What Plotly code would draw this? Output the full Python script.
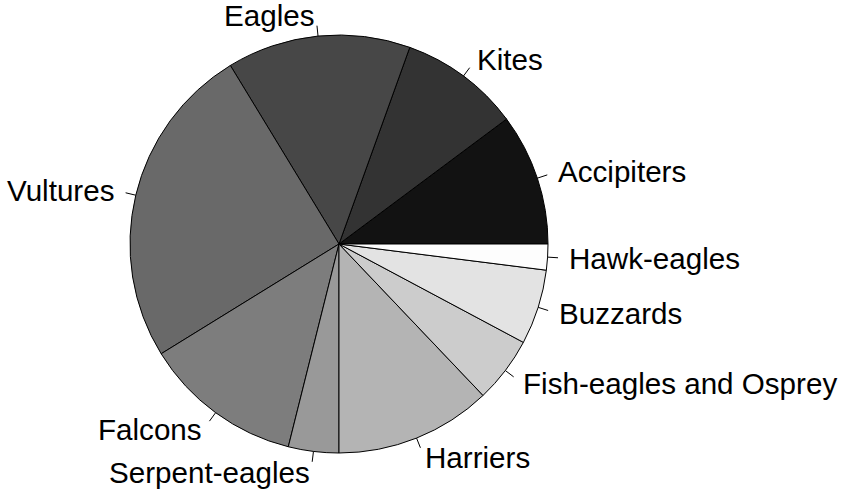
import math
import plotly.graph_objects as go

W, H = 842, 493

# raptor groups, counterclockwise from 3 o'clock (R pie style)
groups = ["Accipiters", "Kites", "Eagles", "Vultures", "Falcons",
          "Serpent-eagles", "Harriers", "Fish-eagles and Osprey",
          "Buzzards", "Hawk-eagles"]
shares = [10.2, 9.3, 14.2, 25.1, 12.3, 3.9, 12.1, 5.1, 5.8, 2.0]
greys = ["#121212", "#333333", "#474747", "#696969", "#7d7d7d",
         "#999999", "#b4b4b4", "#cccccc", "#e3e3e3", "#fdfdfd"]

# pie placement in pixels
cx, cy, R = 339, 244, 209

total = sum(shares)
# plotly's ccw pie puts the first slice clockwise of `rotation`, so shift it back
rot = 90 - 360 * shares[0] / total

fig = go.Figure(go.Pie(
    labels=groups, values=shares, sort=False,
    direction="counterclockwise", rotation=rot,
    textinfo="none", showlegend=False, hoverinfo="label+percent",
    marker=dict(colors=greys, line=dict(color="black", width=1)),
    domain=dict(x=[(cx - R) / W, (cx + R) / W],
                y=[1 - (cy + R) / H, 1 - (cy - R) / H])))

cum = 0.0
for name, v in zip(groups, shares):
    mid = 2 * math.pi * (cum + v / 2) / total
    cum += v
    c, s = math.cos(mid), math.sin(mid)
    # tick from the rim out to 1.05 R
    fig.add_shape(type="line", xref="paper", yref="paper",
                  x0=(cx + R * c) / W, y0=1 - (cy - R * s) / H,
                  x1=(cx + 1.05 * R * c) / W, y1=1 - (cy - 1.05 * R * s) / H,
                  line=dict(color="black", width=1))
    fig.add_annotation(text=name, showarrow=False, xref="paper", yref="paper",
                       x=(cx + 1.1 * R * c) / W, y=1 - (cy - 1.1 * R * s) / H,
                       xanchor="left" if c >= 0 else "right", yanchor="middle",
                       borderpad=0,
                       font=dict(family="Liberation Sans, Arial", size=29.6, color="black"))

fig.update_layout(width=W, height=H, autosize=False,
                  margin=dict(l=0, r=0, t=0, b=0),
                  paper_bgcolor="white", plot_bgcolor="white")
fig.write_html("out.html", config={"displayModeBar": False},
               post_script="document.body.style.margin='0';")
